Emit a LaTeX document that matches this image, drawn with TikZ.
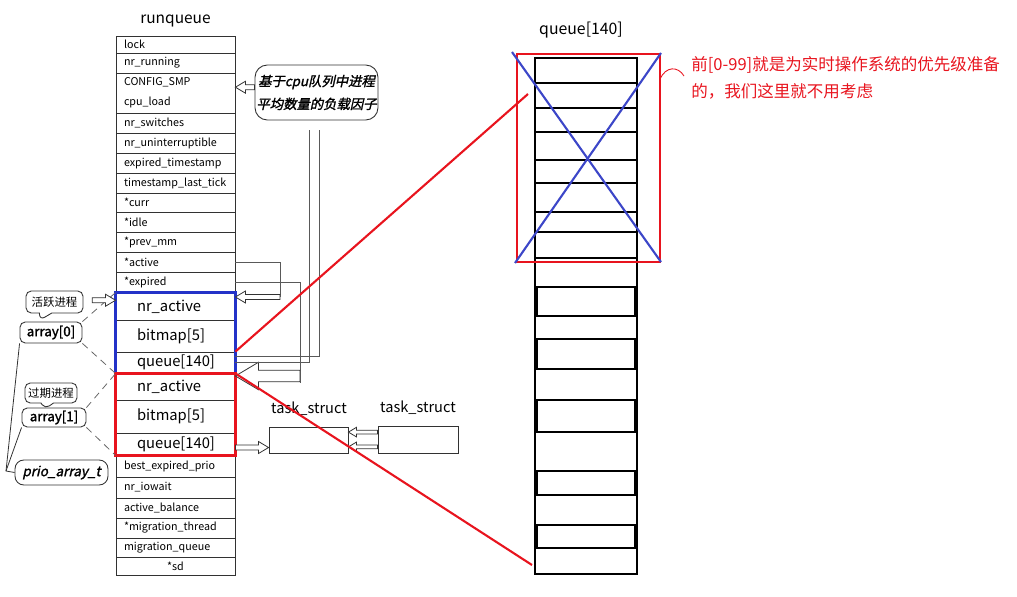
\documentclass[tikz,border=0pt]{standalone}
\usepackage{fontspec}
\setmainfont{Noto Sans CJK SC}
\newfontfamily\boldsans[FakeBold=1.6]{Noto Sans CJK SC}
\newfontfamily\bisans[FakeBold=1.6,FakeSlant=0.22]{Noto Sans CJK SC}
\usepackage{tikz}
\usetikzlibrary{calc,shapes.callouts}
\definecolor{rqblue}{RGB}{35,50,200}
\definecolor{rqred}{RGB}{232,20,30}
\definecolor{xblue}{RGB}{60,70,200}
\definecolor{darkline}{RGB}{50,50,50}
\tikzset{
  rqrow/.style={draw=darkline,line width=.5pt,inner ysep=0pt,inner xsep=0.16cm,
    text width=2.06cm,align=left,font=\fontsize{6.1}{11.3}\selectfont},
  bigrow/.style={draw=darkline,line width=.5pt,inner ysep=0pt,inner xsep=0.42cm,
    text width=1.54cm,align=left,font=\fontsize{8.4}{10}\selectfont},
  hollow/.style={draw=darkline,fill=white,line width=.45pt,line join=miter,
    to path={let \p1=(\tikztostart), \p2=(\tikztotarget),
      \n1={ifthenelse(\x2>\x1,1,-1)} in
      ({\x1},{\y1+#1*1.4pt}) -- ({\x2-\n1*#1*5.7pt},{\y1+#1*1.4pt})
      -- ({\x2-\n1*#1*5.7pt},{\y1+#1*3.4pt}) -- ({\x2},{\y1})
      -- ({\x2-\n1*#1*5.7pt},{\y1-#1*3.4pt}) -- ({\x2-\n1*#1*5.7pt},{\y1-#1*1.4pt})
      -- ({\x1},{\y1-#1*1.4pt}) -- cycle}},
  hollow/.default=1,
  wire/.style={draw=black!65,line width=.5pt},
  tag/.style={draw=darkline,line width=.5pt,rounded corners=3pt,inner sep=0pt,
    font=\boldsans\fontsize{7.6}{8}\selectfont},
  bubble/.style={rectangle callout,draw=darkline,line width=.5pt,rounded corners=3pt,
    inner sep=0pt,font=\fontsize{6.5}{7}\selectfont},
  dashln/.style={draw=black!60,line width=.45pt,dash pattern=on 4pt off 3pt},
  qcell/.style={draw=black,line width=1.3pt},
  redline/.style={draw=rqred,line width=1.2pt}
}
\begin{document}
\begin{tikzpicture}[x=0.02cm,y=-0.02cm]
  \useasboundingbox (0,0) rectangle (1017,597);

  % runqueue table
  \node[font=\fontsize{8.8}{10}\selectfont] (rqtitle) at (175.5,21) {runqueue};
  \foreach \t/\b/\nm/\c in {36/53/rlock/lock, 53/73/rrun/nr\_running,
      73/113/rcfg/{CONFIG\_SMP\\cpu\_load}, 113/133/rsw/nr\_switches,
      133/153/runi/nr\_uninterruptible, 153/173/rexpts/expired\_timestamp,
      173/193/rtick/timestamp\_last\_tick, 193/212/rcurr/*curr,
      212/232/ridle/*idle, 232/252/rprev/*prev\_mm,
      252/272/ract/*active, 272/293/rexp/*expired,
      455/477/rbest/best\_expired\_prio, 477/498/riow/nr\_iowait,
      498/518/rbal/active\_balance, 518/538/rmig/*migration\_thread,
      538/557/rmq/migration\_queue}
    \node[rqrow,minimum height={(\b-\t)*0.02cm}] (\nm) at (175.5,{(\t+\b)/2}) {\c};
  \node[rqrow,align=center,minimum height=0.36cm] (rsd) at (175.5,566) {*sd};

  % prio_array_t blocks
  \node[bigrow,minimum height=0.54cm] (ba) at (175.5,306.5) {nr\_active};
  \node[bigrow,minimum height=0.64cm] (bb) at (175.5,336) {bitmap[5]};
  \node[bigrow,minimum height=0.42cm] (bq) at (175.5,362.5) {queue[140]};
  \node[bigrow,minimum height=0.52cm] (ra) at (175.5,387) {nr\_active};
  \node[bigrow,minimum height=0.66cm] (rb) at (175.5,416.5) {bitmap[5]};
  \node[bigrow,minimum height=0.44cm] (rq) at (175.5,444) {queue[140]};
  \draw[rqblue,line width=1.3pt] (ba.north west) rectangle (bq.south east);
  \draw[rqred,line width=1.3pt] (ra.north west) rectangle (rq.south east);

  % left labels
  \node[bubble,minimum width=1.14cm,minimum height=0.44cm,
    callout absolute pointer={(40,320)}] (act) at (54.5,302) {活跃进程};
  \node[tag,minimum width=1.24cm,minimum height=0.42cm] (a0) at (51,332.5) {array[0]};
  \node[bubble,minimum width=1.04cm,minimum height=0.40cm,
    callout absolute pointer={(45,409)}] (expd) at (51,393) {过期进程};
  \node[tag,minimum width=1.28cm,minimum height=0.38cm] (a1) at (54,417.5) {array[1]};
  \node[tag,rounded corners=5pt,minimum width=1.86cm,minimum height=0.5cm,
    font=\bisans\fontsize{7.7}{8}\selectfont] (pat) at (61.5,472.5) {prio\_array\_t};
  \coordinate (jn) at (6,471);
  \draw[darkline,line width=.45pt] (a0.south west) -- (jn) -- (pat.west);
  \draw[darkline,line width=.45pt] (a1.south west) -- (jn);
  \draw[dashln] (a0.north east) -- (ba.north west);
  \draw[dashln] (a0.south east) -- (bq.south west);
  \draw[dashln] (a1.north east) -- (ra.north west);
  \draw[dashln] (a1.south east) -- (rq.south west);
  \draw[hollow] ([xshift=5pt,yshift=1pt]act.east) to (ba.north west);

  % load note
  \node[draw=darkline,line width=.5pt,rounded corners=7pt,minimum width=2.46cm,
    minimum height=1.1cm,inner sep=0pt,align=center,
    font=\bisans\fontsize{7.6}{13}\selectfont] (load) at (316.5,92.5)
    {基于cpu队列中进程\\平均数量的负载因子};
  \draw[hollow] ([yshift=3pt]load.west) to (rcfg.east);

  % pointers into the arrays
  \coordinate (cA) at (280,297);
  \coordinate (cB) at (300,376);
  \draw[wire] (ract.east) -| (cA);
  \draw[hollow] (cA) to (ba.east |- cA);
  \draw[wire] (rexp.east) -| ([yshift=-4pt]cB);
  \draw[hollow=2.3] (cB) to (rq.east |- cB);
  \coordinate (up1) at (309,130);
  \coordinate (up2) at (319,130);
  \draw[wire] (bq.east) -| (up1);
  \draw[wire] ([yshift=3.6pt]bq.east) -| (up2);

  % task_struct list
  \node[draw=darkline,line width=.5pt,minimum width=1.58cm,minimum height=0.52cm] (ts1) at (308.5,440) {};
  \node[draw=darkline,line width=.5pt,minimum width=1.6cm,minimum height=0.54cm] (ts2) at (418,439.5) {};
  \node[font=\fontsize{8.3}{10}\selectfont] (ts1l) at (309,409) {task\_struct};
  \node[font=\fontsize{8.3}{10}\selectfont] (ts2l) at (418,408) {task\_struct};
  \draw[hollow] ([yshift=-2pt]rq.east) to (ts1.west);
  \draw[hollow=0.8] ([yshift=4.2pt]ts2.west) to (ts1.east);
  \draw[hollow=0.8] ([yshift=-4.2pt]ts2.west) to (ts1.east);

  % queue[140] column
  \node[font=\fontsize{9}{10}\selectfont] (qtitle) at (581,30) {queue[140]};
  \draw[qcell] (535,58) rectangle (637,574);
  \foreach \y in {83,108,132,160,183,212,232,258,287,316,339,369,400,432,471,495,525,548}
    \draw[qcell] (535,\y) -- (637,\y);
  \foreach \a/\b in {287/316,339/369,400/432,471/495,525/548}
    \draw[black,line width=1.6pt] (536.5,\a) rectangle (635.5,\b);

  \draw[rqred,line width=1.3pt] (517,54) rectangle (660,262);
  \draw[xblue,line width=1.2pt] (512,52) -- (661,262);
  \draw[xblue,line width=1.2pt] (661,53) -- (515,263);

  \coordinate (qhi) at (528,94);
  \coordinate (qlo) at (532,565);
  \draw[redline] (bq.north east) -- (qhi);
  \draw[redline] (bq.south east) -- (qlo);

  % note on the real time slots
  \node[anchor=west,align=left,text=rqred,inner sep=0pt,
    font=\fontsize{9.4}{15.3}\selectfont] (rtnote) at (691,78)
    {前[0-99]就是为实时操作系统的优先级准备\\的，我们这里就不用考虑};
  \draw[rqred,line width=.5pt] (660,79) .. controls (666,66) and (678,66) .. (684,76);
\end{tikzpicture}
\end{document}
